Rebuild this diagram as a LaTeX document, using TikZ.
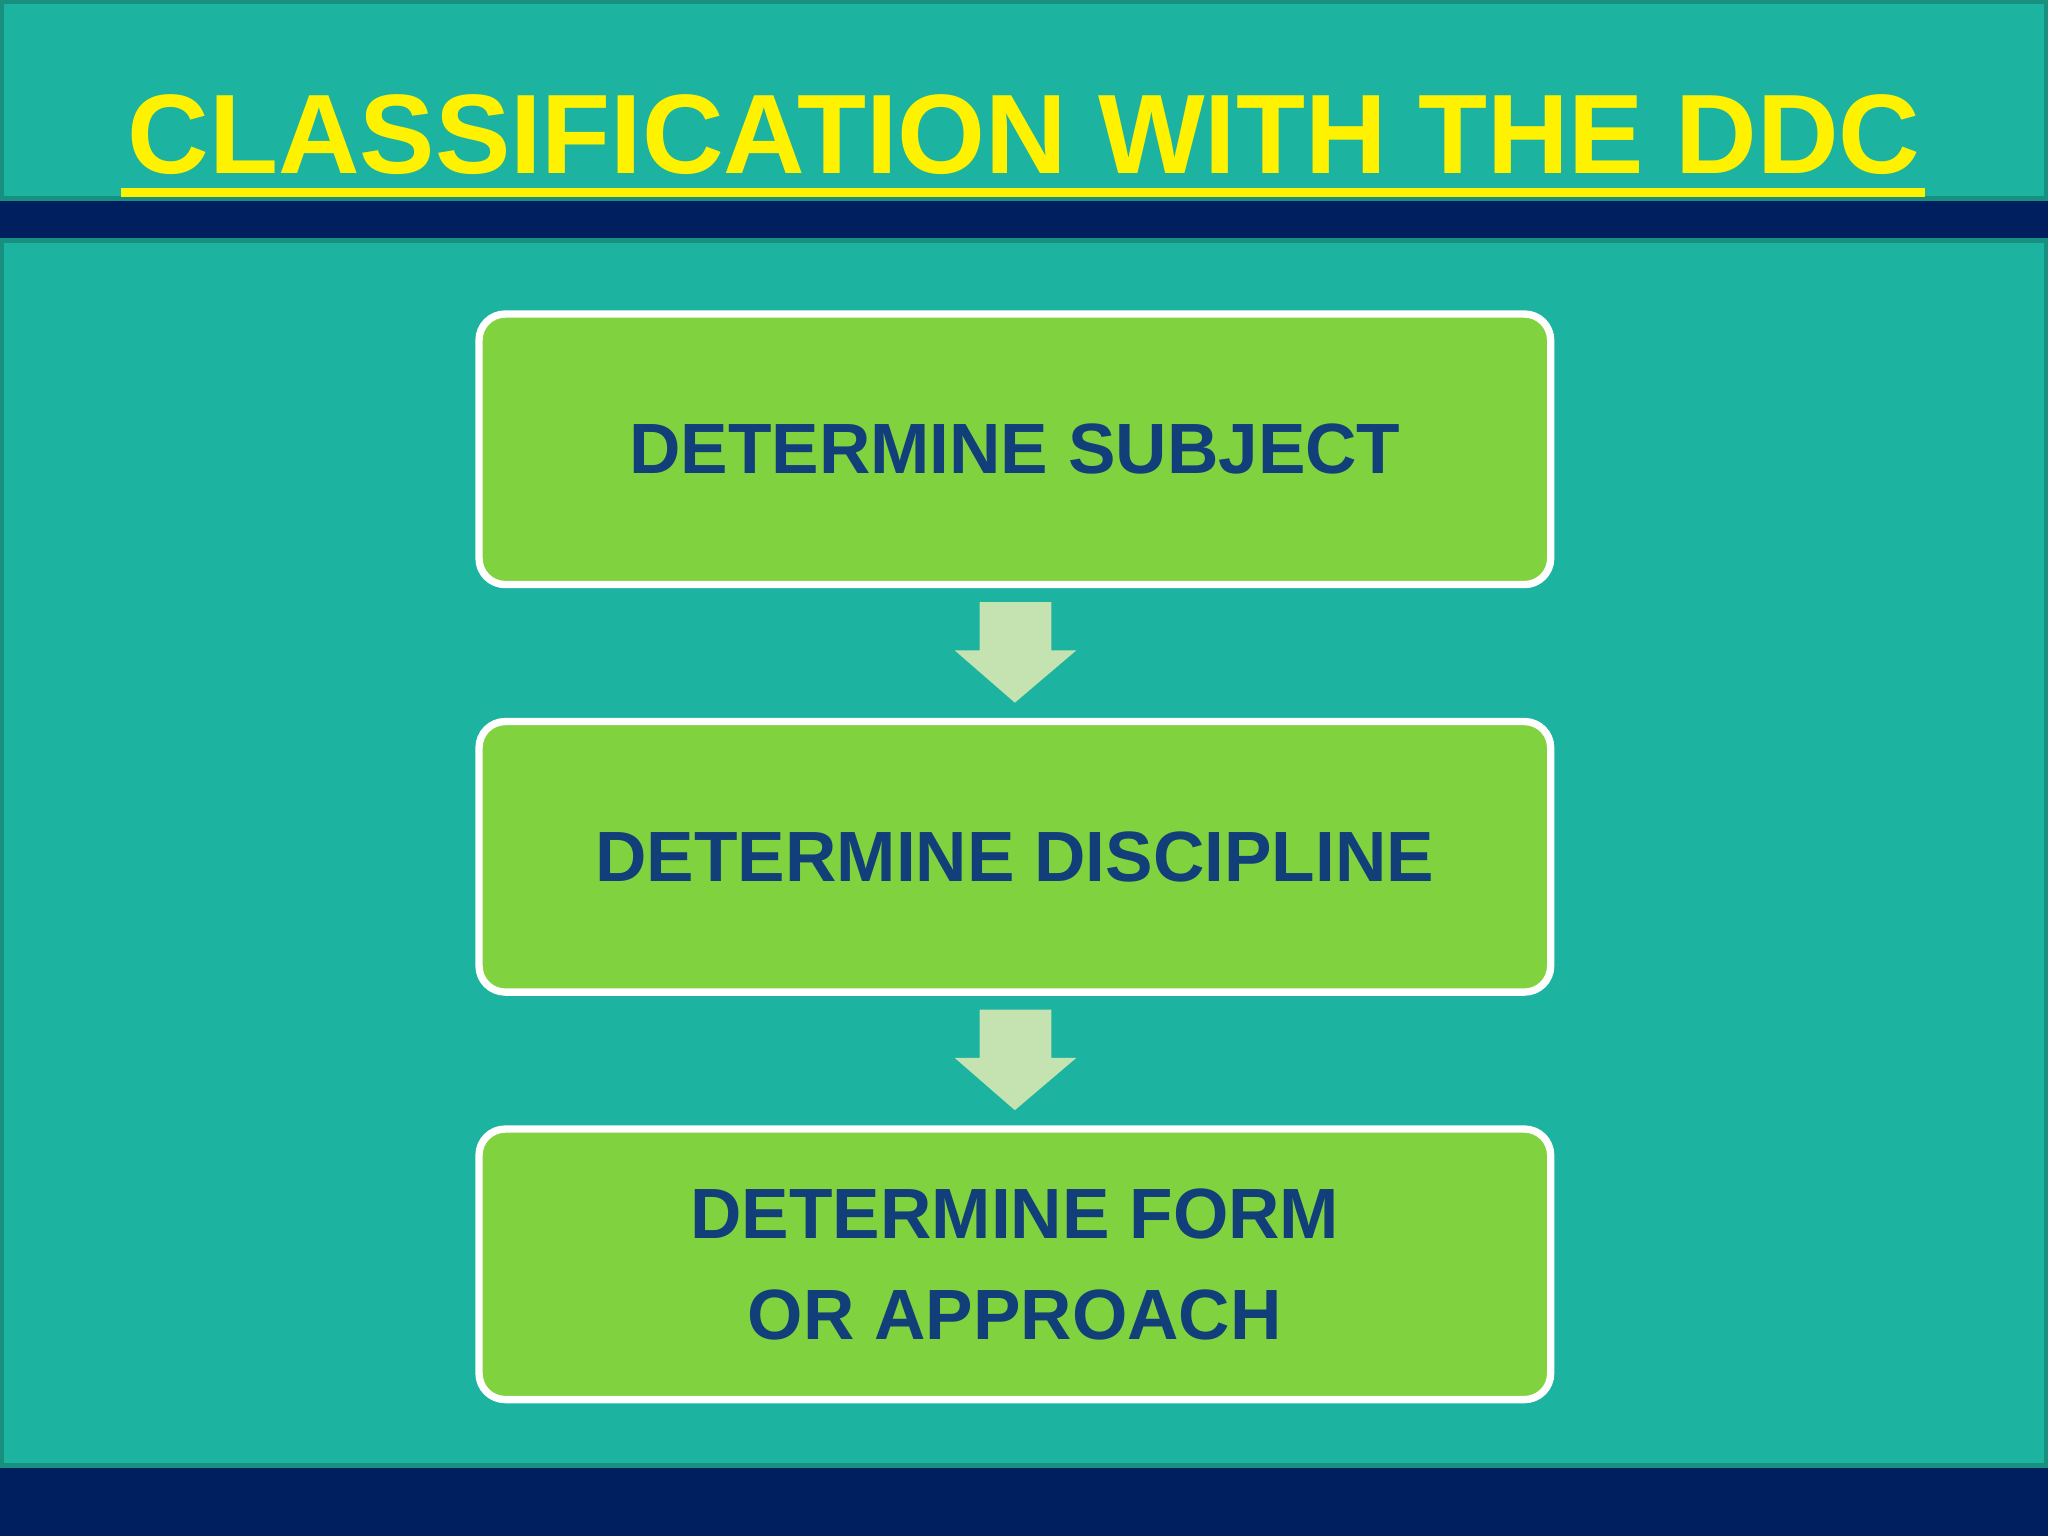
\documentclass[tikz,border=0pt]{standalone}
\usepackage{fontspec}
\setmainfont{Liberation Sans}
\definecolor{teal1}{HTML}{1CB3A0}
\definecolor{tealb}{HTML}{17907F}
\definecolor{navy}{HTML}{001F5F}
\definecolor{boxg}{HTML}{80D23E}
\definecolor{txtb}{HTML}{123F7A}
\definecolor{arr}{HTML}{C5E3B0}
\tikzset{
 stepbox/.style={draw=white,line width=1.6pt,fill=boxg,rounded corners=0.2cm,minimum width=8.2cm,minimum height=2.07cm,font=\fontsize{15.5}{22}\selectfont\bfseries,text=txtb,align=center},
 downarr/.style={fill=arr}
}
\begin{document}
\begin{tikzpicture}[x=0.01cm,y=-0.01cm]
\useasboundingbox (0,0) rectangle (1568,1176);
\fill[navy] (0,0) rectangle (1568,1176);
\filldraw[fill=teal1,draw=tealb,line width=1pt] (1,1) rectangle (1567,152);
\filldraw[fill=teal1,draw=tealb,line width=1pt] (1,184) rectangle (1567,1122);
\node[text=yellow,font=\fontsize{24.6}{30}\selectfont\bfseries] (title) at (784,103) {CLASSIFICATION WITH THE DDC};
\fill[yellow] (93,144) rectangle (1474,151);
\node[stepbox] (a) at (777,344) {DETERMINE SUBJECT};
\node[stepbox] (b) at (777,656) {DETERMINE DISCIPLINE};
\node[stepbox] (c) at (777,968) {DETERMINE FORM\\OR APPROACH};
\fill[downarr] (750,461) -- (805,461) -- (805,498) -- (824,498) -- (777,538) -- (731,498) -- (750,498) -- cycle;
\fill[downarr] (750,773) -- (805,773) -- (805,810) -- (824,810) -- (777,850) -- (731,810) -- (750,810) -- cycle;
\end{tikzpicture}
\end{document}
